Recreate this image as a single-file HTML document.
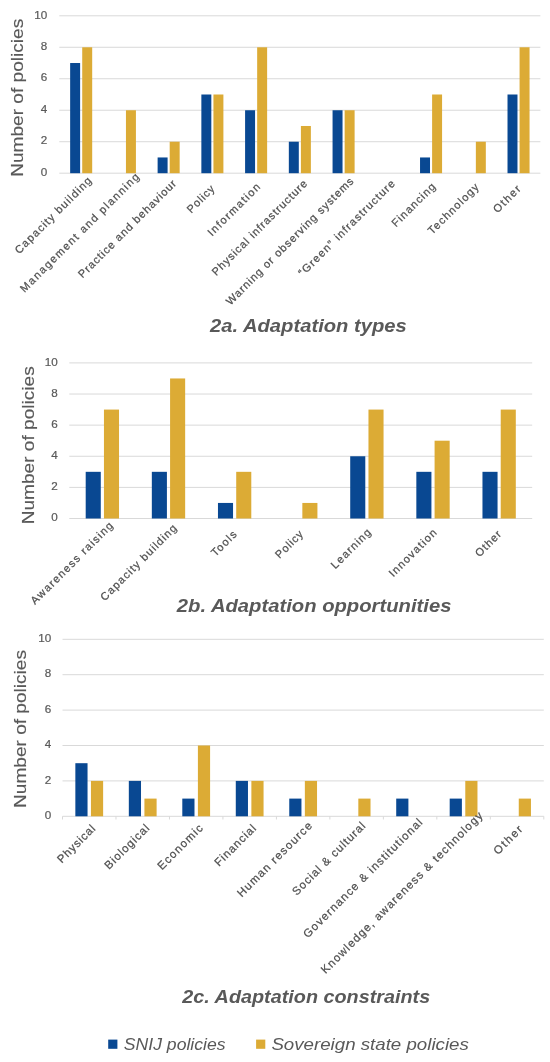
<!DOCTYPE html>
<html lang="en"><head><meta charset="utf-8"><title>Adaptation policies charts</title>
<style>html,body{margin:0;padding:0;background:#fff}svg{display:block}text{font-family:"Liberation Sans", sans-serif;fill:#595959}.lb{fill:#505050;stroke:#505050;stroke-width:.25px}.yl{stroke:#595959;stroke-width:.15px}.tk{stroke:#595959;stroke-width:.2px}</style></head><body>
<svg width="550" height="1062" viewBox="0 0 550 1062">
<rect width="550" height="1062" fill="#fff"/>
<g>
<line x1="59.3" x2="540.4" y1="173.20" y2="173.20" stroke="#d9d9d9" stroke-width="1"/>
<text transform="translate(47.2 175.90) scale(1.08 1)" font-size="10.8" text-anchor="end" class="tk">0</text>
<line x1="59.3" x2="540.4" y1="141.72" y2="141.72" stroke="#d9d9d9" stroke-width="1"/>
<text transform="translate(47.2 144.42) scale(1.08 1)" font-size="10.8" text-anchor="end" class="tk">2</text>
<line x1="59.3" x2="540.4" y1="110.24" y2="110.24" stroke="#d9d9d9" stroke-width="1"/>
<text transform="translate(47.2 112.94) scale(1.08 1)" font-size="10.8" text-anchor="end" class="tk">4</text>
<line x1="59.3" x2="540.4" y1="78.76" y2="78.76" stroke="#d9d9d9" stroke-width="1"/>
<text transform="translate(47.2 81.46) scale(1.08 1)" font-size="10.8" text-anchor="end" class="tk">6</text>
<line x1="59.3" x2="540.4" y1="47.28" y2="47.28" stroke="#d9d9d9" stroke-width="1"/>
<text transform="translate(47.2 49.98) scale(1.08 1)" font-size="10.8" text-anchor="end" class="tk">8</text>
<line x1="59.3" x2="540.4" y1="15.80" y2="15.80" stroke="#d9d9d9" stroke-width="1"/>
<text transform="translate(47.2 18.50) scale(1.08 1)" font-size="10.8" text-anchor="end" class="tk">10</text>
<rect x="70.15" y="63.02" width="9.97" height="110.18" fill="#094892"/>
<rect x="82.22" y="47.28" width="9.97" height="125.92" fill="#dcab35"/>
<text transform="translate(19.15 254.53) rotate(-45)" font-size="11" textLength="103.3" lengthAdjust="spacing" class="lb">Capacity building</text>
<rect x="125.95" y="110.24" width="9.97" height="62.96" fill="#dcab35"/>
<text transform="translate(24.50 292.91) rotate(-45)" font-size="11" textLength="163.0" lengthAdjust="spacing" class="lb">Management and planning</text>
<rect x="157.62" y="157.46" width="9.97" height="15.74" fill="#094892"/>
<rect x="169.69" y="141.72" width="9.97" height="31.48" fill="#dcab35"/>
<text transform="translate(82.55 278.60) rotate(-45)" font-size="11" textLength="133.4" lengthAdjust="spacing" class="lb">Practice and behaviour</text>
<rect x="201.36" y="94.50" width="9.97" height="78.70" fill="#094892"/>
<rect x="213.43" y="94.50" width="9.97" height="78.70" fill="#dcab35"/>
<text transform="translate(191.21 213.68) rotate(-45)" font-size="11" textLength="34.0" lengthAdjust="spacing" class="lb">Policy</text>
<rect x="245.09" y="110.24" width="9.97" height="62.96" fill="#094892"/>
<rect x="257.16" y="47.28" width="9.97" height="125.92" fill="#dcab35"/>
<text transform="translate(211.88 236.75) rotate(-45)" font-size="11" textLength="69.3" lengthAdjust="spacing" class="lb">Information</text>
<rect x="288.83" y="141.72" width="9.97" height="31.48" fill="#094892"/>
<rect x="300.90" y="125.98" width="9.97" height="47.22" fill="#dcab35"/>
<text transform="translate(216.13 276.23) rotate(-45)" font-size="11" textLength="129.8" lengthAdjust="spacing" class="lb">Physical infrastructure</text>
<rect x="332.56" y="110.24" width="9.97" height="62.96" fill="#094892"/>
<rect x="344.64" y="110.24" width="9.97" height="62.96" fill="#dcab35"/>
<text transform="translate(230.44 305.66) rotate(-45)" font-size="11" textLength="174.9" lengthAdjust="spacing" class="lb">Warning or observing systems</text>
<text transform="translate(302.77 277.07) rotate(-45)" font-size="11" textLength="131.1" lengthAdjust="spacing" class="lb">“Green” infrastructure</text>
<rect x="420.04" y="157.46" width="9.97" height="15.74" fill="#094892"/>
<rect x="432.11" y="94.50" width="9.97" height="78.70" fill="#dcab35"/>
<text transform="translate(396.01 227.55) rotate(-45)" font-size="11" textLength="56.7" lengthAdjust="spacing" class="lb">Financing</text>
<rect x="475.85" y="141.72" width="9.97" height="31.48" fill="#dcab35"/>
<text transform="translate(432.31 235.00) rotate(-45)" font-size="11" textLength="66.6" lengthAdjust="spacing" class="lb">Technology</text>
<rect x="507.51" y="94.50" width="9.97" height="78.70" fill="#094892"/>
<rect x="519.58" y="47.28" width="9.97" height="125.92" fill="#dcab35"/>
<text transform="translate(497.45 213.59) rotate(-45)" font-size="11" textLength="33.8" lengthAdjust="spacing" class="lb">Other</text>
<text transform="translate(23.40 97.80) rotate(-90)" font-size="17.2" text-anchor="middle" textLength="158" lengthAdjust="spacingAndGlyphs" class="yl">Number of policies</text>
<text x="210.0" y="332.3" font-size="18" font-weight="bold" font-style="italic" textLength="196.8" lengthAdjust="spacingAndGlyphs">2a. Adaptation types</text>
</g>
<g>
<line x1="69.3" x2="532.2" y1="518.50" y2="518.50" stroke="#d9d9d9" stroke-width="1"/>
<text transform="translate(57.7 521.20) scale(1.08 1)" font-size="10.8" text-anchor="end" class="tk">0</text>
<line x1="69.3" x2="532.2" y1="487.38" y2="487.38" stroke="#d9d9d9" stroke-width="1"/>
<text transform="translate(57.7 490.08) scale(1.08 1)" font-size="10.8" text-anchor="end" class="tk">2</text>
<line x1="69.3" x2="532.2" y1="456.26" y2="456.26" stroke="#d9d9d9" stroke-width="1"/>
<text transform="translate(57.7 458.96) scale(1.08 1)" font-size="10.8" text-anchor="end" class="tk">4</text>
<line x1="69.3" x2="532.2" y1="425.14" y2="425.14" stroke="#d9d9d9" stroke-width="1"/>
<text transform="translate(57.7 427.84) scale(1.08 1)" font-size="10.8" text-anchor="end" class="tk">6</text>
<line x1="69.3" x2="532.2" y1="394.02" y2="394.02" stroke="#d9d9d9" stroke-width="1"/>
<text transform="translate(57.7 396.72) scale(1.08 1)" font-size="10.8" text-anchor="end" class="tk">8</text>
<line x1="69.3" x2="532.2" y1="362.90" y2="362.90" stroke="#d9d9d9" stroke-width="1"/>
<text transform="translate(57.7 365.60) scale(1.08 1)" font-size="10.8" text-anchor="end" class="tk">10</text>
<rect x="85.70" y="471.82" width="15.08" height="46.68" fill="#094892"/>
<rect x="103.95" y="409.58" width="15.08" height="108.92" fill="#dcab35"/>
<text transform="translate(35.10 605.07) rotate(-45)" font-size="11" textLength="111.1" lengthAdjust="spacing" class="lb">Awareness raising</text>
<rect x="151.83" y="471.82" width="15.08" height="46.68" fill="#094892"/>
<rect x="170.08" y="378.46" width="15.08" height="140.04" fill="#dcab35"/>
<text transform="translate(104.78 601.53) rotate(-45)" font-size="11" textLength="102.6" lengthAdjust="spacing" class="lb">Capacity building</text>
<rect x="217.96" y="502.94" width="15.08" height="15.56" fill="#094892"/>
<rect x="236.21" y="471.82" width="15.08" height="46.68" fill="#dcab35"/>
<text transform="translate(215.46 556.97) rotate(-45)" font-size="11" textLength="30.9" lengthAdjust="spacing" class="lb">Tools</text>
<rect x="302.34" y="502.94" width="15.08" height="15.56" fill="#dcab35"/>
<text transform="translate(279.58 558.98) rotate(-45)" font-size="11" textLength="34.0" lengthAdjust="spacing" class="lb">Policy</text>
<rect x="350.21" y="456.26" width="15.08" height="62.24" fill="#094892"/>
<rect x="368.47" y="409.58" width="15.08" height="108.92" fill="#dcab35"/>
<text transform="translate(335.29 569.40) rotate(-45)" font-size="11" textLength="51.3" lengthAdjust="spacing" class="lb">Learning</text>
<rect x="416.34" y="471.82" width="15.08" height="46.68" fill="#094892"/>
<rect x="434.59" y="440.70" width="15.08" height="77.80" fill="#dcab35"/>
<text transform="translate(393.20 577.61) rotate(-45)" font-size="11" textLength="62.5" lengthAdjust="spacing" class="lb">Innovation</text>
<rect x="482.47" y="471.82" width="15.08" height="46.68" fill="#094892"/>
<rect x="500.72" y="409.58" width="15.08" height="108.92" fill="#dcab35"/>
<text transform="translate(479.47 557.47) rotate(-45)" font-size="11" textLength="31.8" lengthAdjust="spacing" class="lb">Other</text>
<text transform="translate(33.80 445.30) rotate(-90)" font-size="17.2" text-anchor="middle" textLength="158" lengthAdjust="spacingAndGlyphs" class="yl">Number of policies</text>
<text x="176.8" y="612.3" font-size="18" font-weight="bold" font-style="italic" textLength="274.6" lengthAdjust="spacingAndGlyphs">2b. Adaptation opportunities</text>
</g>
<g>
<line x1="62.5" x2="543.8" y1="816.30" y2="816.30" stroke="#d9d9d9" stroke-width="1"/>
<text transform="translate(51.2 819.00) scale(1.08 1)" font-size="10.8" text-anchor="end" class="tk">0</text>
<line x1="62.5" x2="543.8" y1="780.90" y2="780.90" stroke="#d9d9d9" stroke-width="1"/>
<text transform="translate(51.2 783.60) scale(1.08 1)" font-size="10.8" text-anchor="end" class="tk">2</text>
<line x1="62.5" x2="543.8" y1="745.50" y2="745.50" stroke="#d9d9d9" stroke-width="1"/>
<text transform="translate(51.2 748.20) scale(1.08 1)" font-size="10.8" text-anchor="end" class="tk">4</text>
<line x1="62.5" x2="543.8" y1="710.10" y2="710.10" stroke="#d9d9d9" stroke-width="1"/>
<text transform="translate(51.2 712.80) scale(1.08 1)" font-size="10.8" text-anchor="end" class="tk">6</text>
<line x1="62.5" x2="543.8" y1="674.70" y2="674.70" stroke="#d9d9d9" stroke-width="1"/>
<text transform="translate(51.2 677.40) scale(1.08 1)" font-size="10.8" text-anchor="end" class="tk">8</text>
<line x1="62.5" x2="543.8" y1="639.30" y2="639.30" stroke="#d9d9d9" stroke-width="1"/>
<text transform="translate(51.2 642.00) scale(1.08 1)" font-size="10.8" text-anchor="end" class="tk">10</text>
<line x1="62.50" x2="62.50" y1="816.30" y2="819.50" stroke="#d9d9d9" stroke-width="1"/>
<line x1="115.98" x2="115.98" y1="816.30" y2="819.50" stroke="#d9d9d9" stroke-width="1"/>
<line x1="169.46" x2="169.46" y1="816.30" y2="819.50" stroke="#d9d9d9" stroke-width="1"/>
<line x1="222.93" x2="222.93" y1="816.30" y2="819.50" stroke="#d9d9d9" stroke-width="1"/>
<line x1="276.41" x2="276.41" y1="816.30" y2="819.50" stroke="#d9d9d9" stroke-width="1"/>
<line x1="329.89" x2="329.89" y1="816.30" y2="819.50" stroke="#d9d9d9" stroke-width="1"/>
<line x1="383.37" x2="383.37" y1="816.30" y2="819.50" stroke="#d9d9d9" stroke-width="1"/>
<line x1="436.84" x2="436.84" y1="816.30" y2="819.50" stroke="#d9d9d9" stroke-width="1"/>
<line x1="490.32" x2="490.32" y1="816.30" y2="819.50" stroke="#d9d9d9" stroke-width="1"/>
<line x1="543.80" x2="543.80" y1="816.30" y2="819.50" stroke="#d9d9d9" stroke-width="1"/>
<rect x="75.35" y="763.20" width="12.19" height="53.10" fill="#094892"/>
<rect x="90.94" y="780.90" width="12.19" height="35.40" fill="#dcab35"/>
<text transform="translate(61.73 863.68) rotate(-45)" font-size="11.4" textLength="48.4" lengthAdjust="spacing" class="lb">Physical</text>
<rect x="128.82" y="780.90" width="12.19" height="35.40" fill="#094892"/>
<rect x="144.42" y="798.60" width="12.19" height="17.70" fill="#dcab35"/>
<text transform="translate(108.95 869.94) rotate(-45)" font-size="11.4" textLength="58.0" lengthAdjust="spacing" class="lb">Biological</text>
<rect x="182.30" y="798.60" width="12.19" height="17.70" fill="#094892"/>
<rect x="197.90" y="745.50" width="12.19" height="70.80" fill="#dcab35"/>
<text transform="translate(161.91 870.46) rotate(-45)" font-size="11.4" textLength="58.8" lengthAdjust="spacing" class="lb">Economic</text>
<rect x="235.78" y="780.90" width="12.19" height="35.40" fill="#094892"/>
<rect x="251.37" y="780.90" width="12.19" height="35.40" fill="#dcab35"/>
<text transform="translate(218.92 866.92) rotate(-45)" font-size="11.4" textLength="53.4" lengthAdjust="spacing" class="lb">Financial</text>
<rect x="289.26" y="798.60" width="12.19" height="17.70" fill="#094892"/>
<rect x="304.85" y="780.90" width="12.19" height="35.40" fill="#dcab35"/>
<text transform="translate(241.66 897.67) rotate(-45)" font-size="11.4" textLength="100.5" lengthAdjust="spacing" class="lb">Human resource</text>
<rect x="358.33" y="798.60" width="12.19" height="17.70" fill="#dcab35"/>
<text transform="translate(296.69 896.11) rotate(-45)" font-size="11.4" textLength="98.1" lengthAdjust="spacing" class="lb">Social &amp; cultural</text>
<rect x="396.21" y="798.60" width="12.19" height="17.70" fill="#094892"/>
<text transform="translate(307.71 938.57) rotate(-45)" font-size="11.4" textLength="163.2" lengthAdjust="spacing" class="lb">Governance &amp; institutional</text>
<rect x="449.69" y="798.60" width="12.19" height="17.70" fill="#094892"/>
<rect x="465.28" y="780.90" width="12.19" height="35.40" fill="#dcab35"/>
<text transform="translate(325.45 974.31) rotate(-45)" font-size="11.4" textLength="223.1" lengthAdjust="spacing" class="lb">Knowledge, awareness &amp; technology</text>
<rect x="518.76" y="798.60" width="12.19" height="17.70" fill="#dcab35"/>
<text transform="translate(498.11 855.13) rotate(-45)" font-size="11.4" textLength="35.3" lengthAdjust="spacing" class="lb">Other</text>
<text transform="translate(26.30 729.00) rotate(-90)" font-size="17.2" text-anchor="middle" textLength="158" lengthAdjust="spacingAndGlyphs" class="yl">Number of policies</text>
<text x="182.3" y="1002.6" font-size="18" font-weight="bold" font-style="italic" textLength="247.9" lengthAdjust="spacingAndGlyphs">2c. Adaptation constraints</text>
</g>
<rect x="108.2" y="1039.6" width="9.2" height="9.2" fill="#094892"/>
<text x="123.8" y="1050.4" font-size="17" font-style="italic" textLength="101.8" lengthAdjust="spacingAndGlyphs">SNIJ policies</text>
<rect x="256.1" y="1039.6" width="9.2" height="9.2" fill="#dcab35"/>
<text x="271.4" y="1050.4" font-size="17" font-style="italic" textLength="197.4" lengthAdjust="spacingAndGlyphs">Sovereign state policies</text>
</svg></body></html>
